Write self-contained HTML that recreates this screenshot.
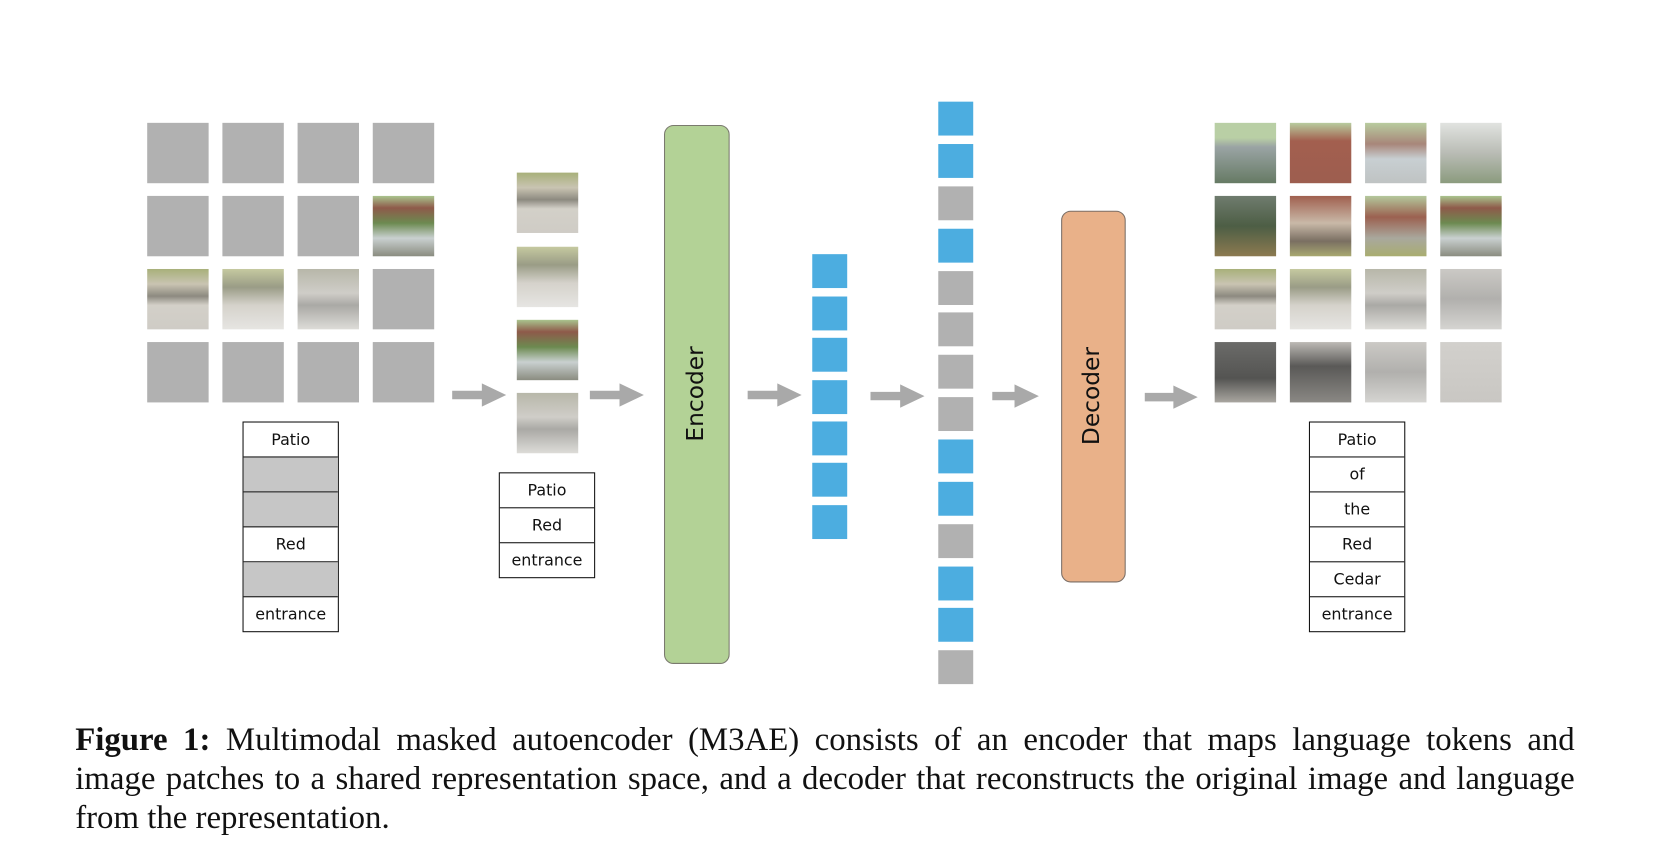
<!DOCTYPE html>
<html><head><style>
html,body{margin:0;padding:0;background:#fff;width:1660px;height:858px;overflow:hidden}
#c{position:absolute;left:0;top:0;width:1568px;height:810px;transform:scale(1.059);transform-origin:0 0}
.a{position:absolute}
.g{background:#b1b1b1;width:58px;height:57px}
.p1{background:linear-gradient(180deg,#a8b07a 0%,#c9c4b2 25%,#8d8a80 45%,#d3d0c8 60%,#cfccc6 100%)}
.p2{background:linear-gradient(180deg,#c5c9a0 0%,#9a9c86 30%,#d5d2cb 60%,#e6e5e2 100%)}
.p3{background:linear-gradient(180deg,#b7b7a9 0%,#cfcdc8 40%,#aaa9a5 60%,#dddcd8 100%)}
.p4{background:linear-gradient(180deg,#a9c48e 0%,#8e5a4a 20%,#6c8a50 45%,#c9d0d0 70%,#8a8c80 100%)}
.b1{background:linear-gradient(180deg,#b9cfa5 0%,#b9cfa5 25%,#9aa4a4 40%,#667a64 100%)}
.b2{background:linear-gradient(180deg,#b8cc9f 0%,#a35f4f 30%,#9d5e4f 100%)}
.b3{background:linear-gradient(180deg,#b8cc9f 0%,#a8867a 35%,#c8cfd2 60%,#bfc3c3 100%)}
.b4{background:linear-gradient(180deg,#e1e3e0 0%,#b9bcb5 50%,#8b9b7e 100%)}
.c1{background:linear-gradient(180deg,#6f7c6e 0%,#4d5e45 50%,#8c7a50 100%)}
.c2{background:linear-gradient(180deg,#a0604f 0%,#c9b9a8 45%,#7a6f62 75%,#a8a870 100%)}
.c3{background:linear-gradient(180deg,#b4c89c 0%,#9b6150 35%,#a9a89d 70%,#a9ad70 100%)}
.d1{background:linear-gradient(180deg,#6b6b69 0%,#545452 60%,#a9a6a0 100%)}
.d2{background:linear-gradient(180deg,#bdbab5 0%,#5a5957 40%,#8a8884 100%)}
.d3{background:linear-gradient(180deg,#cbc9c5 0%,#b1b0ad 50%,#d5d4d1 100%)}
.d4{background:linear-gradient(180deg,#d2d0cc 0%,#c9c7c3 100%)}
.t{position:absolute;width:89px;border:1.5px solid #111;box-sizing:content-box}
.t div{height:32px;border-bottom:1.5px solid #111;font:15px "DejaVu Sans","Liberation Sans",sans-serif;text-align:center;line-height:32px;color:#111}
.t div:last-child{border-bottom:none}
.t .x{background:#c6c6c6}
.tok{position:absolute;width:33px;height:32px}
.bl{background:#4cade0}.gr{background:#b1b1b1}
.cap{position:absolute;left:71px;top:679px;width:1416px;font:31px "Liberation Serif",serif;line-height:37px;color:#111}
.cap span{display:block;text-align:justify;text-align-last:justify;white-space:nowrap}
.cap span.l{text-align-last:left}
</style></head><body><div id="c">
<div class="a g" style="left:139px;top:116px"></div>
<div class="a g" style="left:210px;top:116px"></div>
<div class="a g" style="left:281px;top:116px"></div>
<div class="a g" style="left:352px;top:116px"></div>
<div class="a g" style="left:139px;top:185px"></div>
<div class="a g" style="left:210px;top:185px"></div>
<div class="a g" style="left:281px;top:185px"></div>
<div class="a g p4" style="left:352px;top:185px"></div>
<div class="a g p1" style="left:139px;top:254px"></div>
<div class="a g p2" style="left:210px;top:254px"></div>
<div class="a g p3" style="left:281px;top:254px"></div>
<div class="a g" style="left:352px;top:254px"></div>
<div class="a g" style="left:139px;top:323px"></div>
<div class="a g" style="left:210px;top:323px"></div>
<div class="a g" style="left:281px;top:323px"></div>
<div class="a g" style="left:352px;top:323px"></div>
<div class="t" style="left:229px;top:398px"><div>Patio</div><div class="x"></div><div class="x"></div><div>Red</div><div class="x"></div><div>entrance</div></div>
<div class="a g p1" style="left:488px;top:163px"></div>
<div class="a g p2" style="left:488px;top:233px"></div>
<div class="a g p4" style="left:488px;top:302px"></div>
<div class="a g p3" style="left:488px;top:371px"></div>
<div class="t" style="left:471px;top:446px"><div>Patio</div><div>Red</div><div>entrance</div></div>
<div class="a" style="left:627px;top:118px;width:60px;height:507px;background:#b3d296;border:1.5px solid #7a7a6e;border-radius:9px"></div>
<div class="a" style="left:558px;top:357px;width:200px;height:30px;transform:rotate(-90deg);text-align:center;font:22px 'DejaVu Sans','Liberation Sans',sans-serif;line-height:30px;color:#111">Encoder</div>
<div class="a" style="left:1002px;top:199px;width:59px;height:349px;background:#e9b189;border:1.5px solid #7a6e66;border-radius:9px"></div>
<div class="a" style="left:932px;top:359px;width:200px;height:30px;transform:rotate(-90deg);text-align:center;font:22px 'DejaVu Sans','Liberation Sans',sans-serif;line-height:30px;color:#111">Decoder</div>
<div class="tok bl" style="left:767px;top:240px"></div>
<div class="tok bl" style="left:767px;top:280px"></div>
<div class="tok bl" style="left:767px;top:319px"></div>
<div class="tok bl" style="left:767px;top:359px"></div>
<div class="tok bl" style="left:767px;top:398px"></div>
<div class="tok bl" style="left:767px;top:437px"></div>
<div class="tok bl" style="left:767px;top:477px"></div>
<div class="tok bl" style="left:886px;top:96px"></div>
<div class="tok bl" style="left:886px;top:136px"></div>
<div class="tok gr" style="left:886px;top:176px"></div>
<div class="tok bl" style="left:886px;top:216px"></div>
<div class="tok gr" style="left:886px;top:256px"></div>
<div class="tok gr" style="left:886px;top:295px"></div>
<div class="tok gr" style="left:886px;top:335px"></div>
<div class="tok gr" style="left:886px;top:375px"></div>
<div class="tok bl" style="left:886px;top:415px"></div>
<div class="tok bl" style="left:886px;top:455px"></div>
<div class="tok gr" style="left:886px;top:495px"></div>
<div class="tok bl" style="left:886px;top:535px"></div>
<div class="tok bl" style="left:886px;top:574px"></div>
<div class="tok gr" style="left:886px;top:614px"></div>
<div class="a g b1" style="left:1147px;top:116px"></div>
<div class="a g b2" style="left:1218px;top:116px"></div>
<div class="a g b3" style="left:1289px;top:116px"></div>
<div class="a g b4" style="left:1360px;top:116px"></div>
<div class="a g c1" style="left:1147px;top:185px"></div>
<div class="a g c2" style="left:1218px;top:185px"></div>
<div class="a g c3" style="left:1289px;top:185px"></div>
<div class="a g p4" style="left:1360px;top:185px"></div>
<div class="a g p1" style="left:1147px;top:254px"></div>
<div class="a g p2" style="left:1218px;top:254px"></div>
<div class="a g p3" style="left:1289px;top:254px"></div>
<div class="a g d3" style="left:1360px;top:254px"></div>
<div class="a g d1" style="left:1147px;top:323px"></div>
<div class="a g d2" style="left:1218px;top:323px"></div>
<div class="a g d3" style="left:1289px;top:323px"></div>
<div class="a g d4" style="left:1360px;top:323px"></div>
<div class="t" style="left:1236px;top:398px"><div>Patio</div><div>of</div><div>the</div><div>Red</div><div>Cedar</div><div>entrance</div></div>
<svg class="a" style="left:0;top:0" width="1568" height="810">
<g fill="#a9a9a9">
<polygon points="427,369 455,369 455,362 478,373 455,384 455,377 427,377"/>
<polygon points="557,369 585,369 585,362 608,373 585,384 585,377 557,377"/>
<polygon points="706,369 734,369 734,362 757,373 734,384 734,377 706,377"/>
<polygon points="822,370 850,370 850,363 873,374 850,385 850,378 822,378"/>
<polygon points="937,370 958,370 958,363 981,374 958,385 958,378 937,378"/>
<polygon points="1081,371 1108,371 1108,364 1131,375 1108,386 1108,379 1081,379"/>
</g></svg>
<div class="cap"><span><b>Figure 1:</b> Multimodal masked autoencoder (M3AE) consists of an encoder that maps language tokens and</span><span>image patches to a shared representation space, and a decoder that reconstructs the original image and language</span><span class="l">from the representation.</span></div>
</div></body></html>
